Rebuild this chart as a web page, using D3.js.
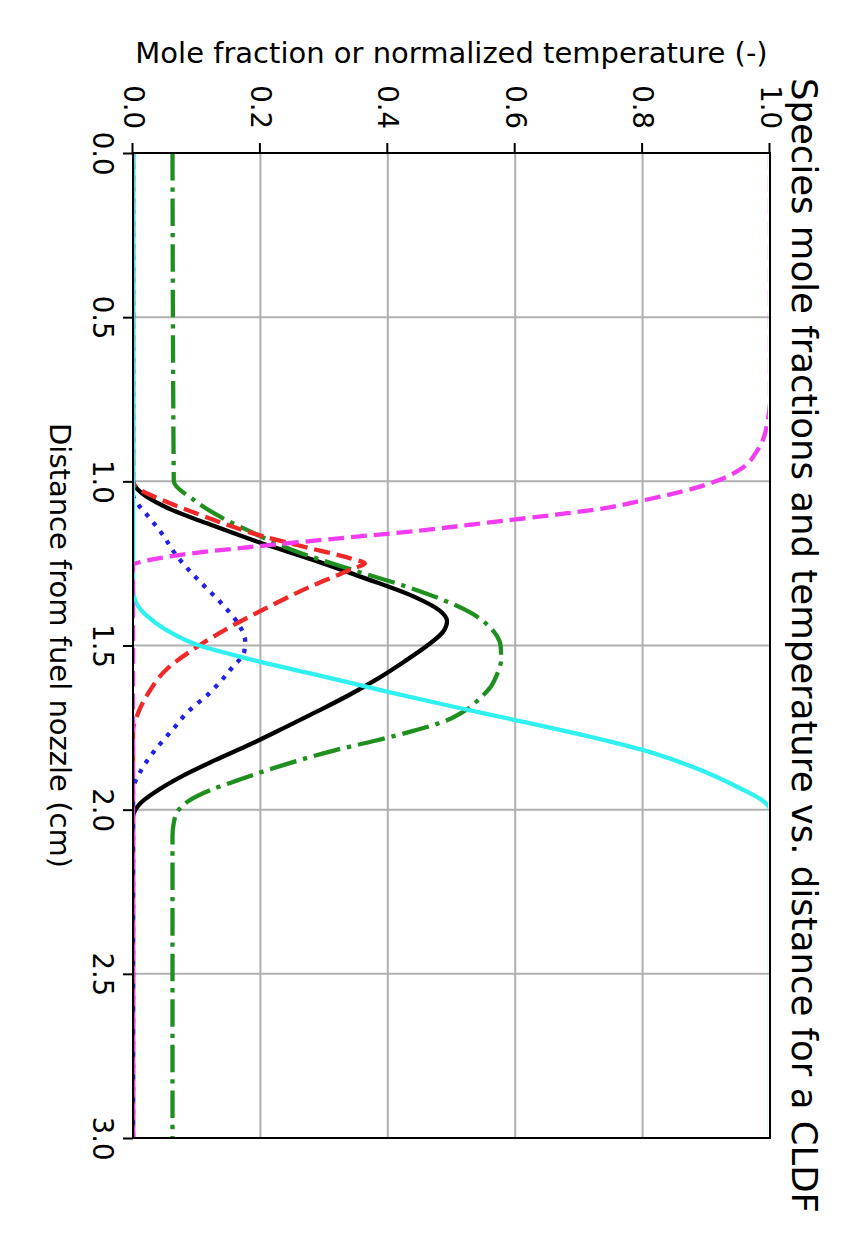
<!DOCTYPE html>
<html>
<head>
<meta charset="utf-8">
<script src="https://cdn.jsdelivr.net/npm/d3@7/dist/d3.min.js"></script>
<style>
  body { margin: 0; background: #fff; }
  text { font-family: "DejaVu Sans", sans-serif; fill: #000; }
</style>
</head>
<body>
<svg id="chart" width="842" height="1236"></svg>
<script>
// ---------- data (distance in cm, value = mole fraction or normalized temperature) ----------
const distanceTicks = [0, 0.5, 1.0, 1.5, 2.0, 2.5, 3.0];
const valueTicks = [0, 0.2, 0.4, 0.6, 0.8, 1.0];
const titleText = "Species mole fractions and temperature vs. distance for a CLDF";
const xLabelText = "Distance from fuel nozzle (cm)";
const yLabelText = "Mole fraction or normalized temperature (-)";

// black solid
const seriesBlack = [[0,0],[1.0,0],[1.045,0.02],[1.087,0.061],[1.128,0.116],[1.187,0.2],[1.24,0.284],
  [1.291,0.358],[1.352,0.442],[1.393,0.481],[1.425,0.493],[1.46,0.486],[1.5,0.462],[1.55,0.425],
  [1.6,0.385],[1.65,0.34],[1.7,0.29],[1.75,0.238],[1.8,0.185],[1.85,0.128],[1.9,0.075],
  [1.95,0.032],[1.98,0.012],[2.0,0.004],[2.02,0],[3.0,0]];
// green dash-dot
const seriesGreen = [[0,0.062],[1.0,0.064],[1.056,0.095],[1.107,0.136],[1.158,0.19],[1.209,0.25],
  [1.27,0.345],[1.321,0.43],[1.36,0.485],[1.4,0.53],[1.44,0.558],[1.47,0.571],[1.5,0.577],
  [1.54,0.578],[1.59,0.571],[1.63,0.56],[1.66,0.545],[1.7,0.52],[1.73,0.49],[1.76,0.44],
  [1.79,0.38],[1.82,0.315],[1.85,0.26],[1.88,0.21],[1.91,0.165],[1.94,0.122],[1.97,0.09],
  [2.0,0.072],[2.04,0.064],[2.08,0.062],[3.0,0.062]];
// red dashed
const seriesRed = [[0,0],[1.0,0],[1.03,0.015],[1.056,0.045],[1.107,0.112],[1.165,0.2],[1.2,0.27],
  [1.235,0.342],[1.25,0.364],[1.265,0.346],[1.285,0.322],[1.321,0.278],[1.356,0.24],[1.395,0.2],
  [1.444,0.152],[1.5,0.104],[1.574,0.052],[1.645,0.024],[1.706,0.008],[1.76,0],[3.0,0]];
// blue dotted
const seriesBlue = [[0,0],[1.04,0],[1.07,0.008],[1.107,0.024],[1.158,0.045],[1.22,0.066],[1.26,0.083],
  [1.311,0.108],[1.372,0.139],[1.433,0.165],[1.484,0.176],[1.515,0.175],[1.576,0.152],[1.645,0.12],
  [1.706,0.084],[1.75,0.065],[1.82,0.034],[1.89,0.01],[1.94,0],[3.0,0]];
// cyan solid
const seriesCyan = [[0,0],[1.33,0],[1.37,0.005],[1.41,0.022],[1.45,0.05],[1.5,0.104],[1.53,0.16],
  [1.55,0.2],[1.59,0.29],[1.641,0.4],[1.685,0.5],[1.727,0.6],[1.772,0.705],[1.818,0.8],[1.874,0.884],
  [1.934,0.952],[1.975,0.99],[2.0,1.0],[3.0,1.0]];
// magenta dashed
const seriesMagenta = [[0,1],[0.75,1],[0.81,0.997],[0.9,0.982],[0.97,0.948],[1.0,0.915],[1.03,0.864],
  [1.06,0.796],[1.085,0.73],[1.1,0.67],[1.125,0.56],[1.15,0.45],[1.175,0.315],[1.2,0.185],[1.22,0.09],
  [1.24,0.025],[1.255,0],[3.0,0]];

// ---------- layout / styles ----------
const W = 985, H = 637;               // unrotated plot size
const LW = 4.3;
const styles = [
  { data: seriesBlack,   color: "#000000", dash: null },
  { data: seriesGreen,   color: "#1f8f1f", dash: [6.4*LW, 1.6*LW, 1*LW, 1.6*LW] },
  { data: seriesRed,     color: "#f02828", dash: [3.7*LW, 1.6*LW] },
  { data: seriesBlue,    color: "#2020e8", dash: [1*LW, 1.65*LW] },
  { data: seriesCyan,    color: "#30f0f0", dash: null },
  { data: seriesMagenta, color: "#f23cf2", dash: [3.7*LW, 1.6*LW] }
];

const svg = d3.select("#chart");
const g = svg.append("g").attr("transform", "translate(770,153) rotate(90)");

const x = d3.scaleLinear().domain([0, 3]).range([0, W]);
const y = d3.scaleLinear().domain([0, 1]).range([H, 0]);

// grid
g.append("g").selectAll("line").data(distanceTicks).join("line")
  .attr("x1", d => x(d)).attr("x2", d => x(d)).attr("y1", 0).attr("y2", H)
  .attr("stroke", "#b0b0b0").attr("stroke-width", 2);
g.append("g").selectAll("line").data(valueTicks).join("line")
  .attr("x1", 0).attr("x2", W).attr("y1", d => y(d)).attr("y2", d => y(d))
  .attr("stroke", "#b0b0b0").attr("stroke-width", 2);

// clip (lines lying exactly on the 1.0 edge end up hidden under the spine, as in the reference)
svg.append("defs").append("clipPath").attr("id", "plotclip")
  .append("rect").attr("x", 0).attr("y", 2).attr("width", W).attr("height", H - 2);

const line = d3.line().x(d => x(d[0])).y(d => y(d[1])).curve(d3.curveMonotoneX);
const lines = g.append("g").attr("clip-path", "url(#plotclip)");
styles.forEach(s => {
  lines.append("path").datum(s.data)
    .attr("d", line)
    .attr("fill", "none")
    .attr("stroke", s.color)
    .attr("stroke-width", LW)
    .attr("stroke-dasharray", s.dash ? s.dash.join(",") : null);
});

// axes
const xAxis = g.append("g").attr("transform", `translate(0,${H})`)
  .call(d3.axisBottom(x).tickValues(distanceTicks).tickFormat(d3.format(".1f"))
    .tickSize(10).tickPadding(10).tickSizeOuter(0));
const yAxis = g.append("g")
  .call(d3.axisLeft(y).tickValues(valueTicks).tickFormat(d3.format(".1f"))
    .tickSize(10).tickPadding(14).tickSizeOuter(0));
[xAxis, yAxis].forEach(a => {
  a.select(".domain").remove();
  a.selectAll(".tick line").attr("stroke", "#000").attr("stroke-width", 2);
  a.selectAll(".tick text").attr("font-size", 27.5).attr("font-family", "DejaVu Sans").attr("fill", "#000");
});

// spines
g.append("rect").attr("x", 0).attr("y", 0).attr("width", W).attr("height", H)
  .attr("fill", "none").attr("stroke", "#000").attr("stroke-width", 2);

// title
g.append("text").attr("x", W / 2).attr("y", -22).attr("text-anchor", "middle")
  .attr("font-size", 35.5).text(titleText);
// x label
g.append("text").attr("x", W / 2).attr("y", H + 83).attr("text-anchor", "middle")
  .attr("font-size", 29).text(xLabelText);
// y label
g.append("text").attr("transform", `translate(-90,${H / 2}) rotate(-90)`)
  .attr("text-anchor", "middle").attr("font-size", 29).text(yLabelText);
</script>
</body>
</html>
